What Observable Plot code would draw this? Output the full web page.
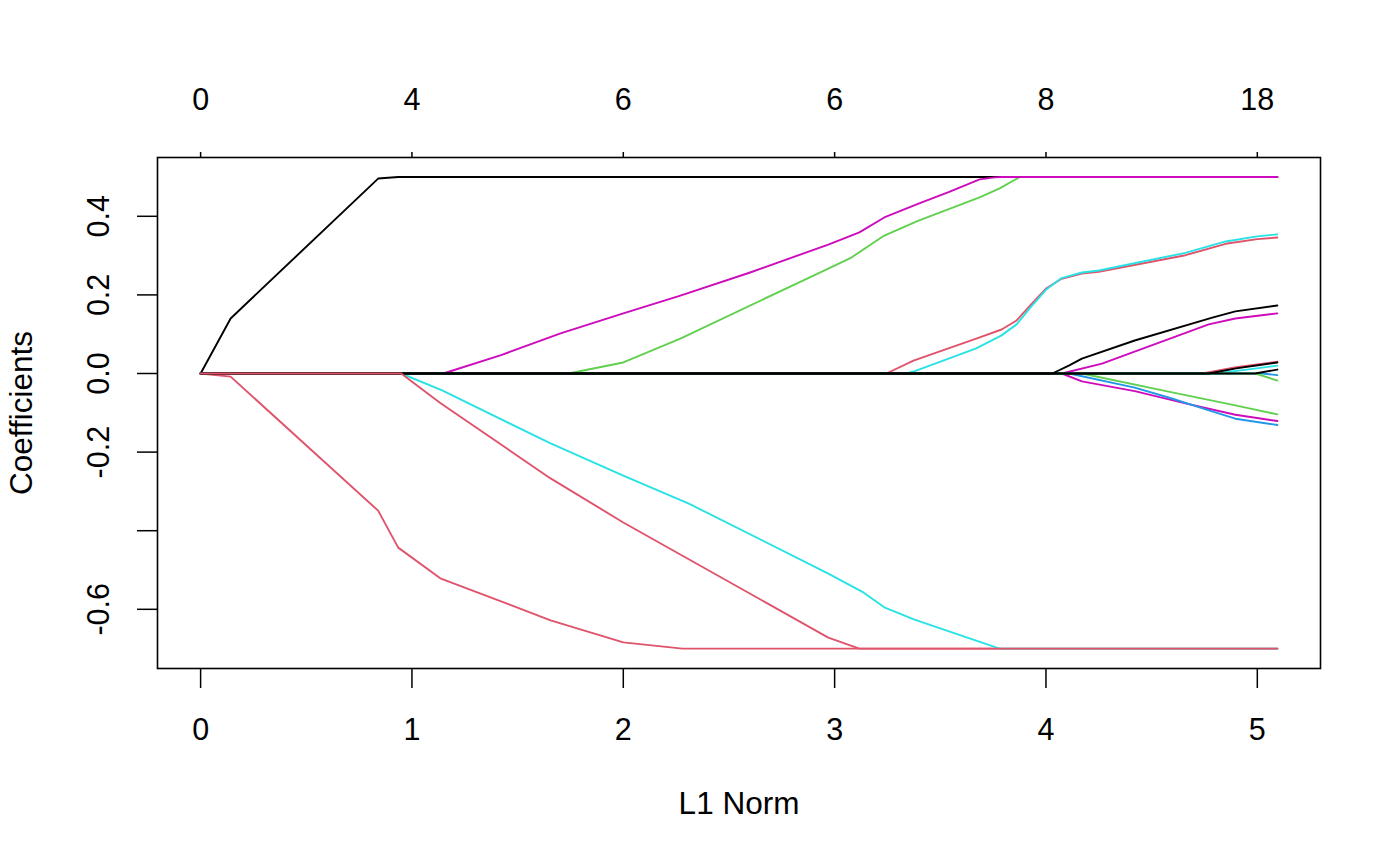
<!DOCTYPE html>
<html>
<head>
<meta charset="utf-8">
<script src="https://cdn.jsdelivr.net/npm/d3@7"></script>
<script src="https://cdn.jsdelivr.net/npm/@observablehq/plot@0.6"></script>
<style>
  html, body { margin: 0; padding: 0; background: #fff; }
  svg { display: block; }
</style>
</head>
<body>
<div id="chart"></div>
<script>
// Axis ticks and labels
const xTicks = [0, 1, 2, 3, 4, 5];
const dfLabels = ["0", "4", "6", "6", "8", "18"];
const yTicks = [-0.6, -0.4, -0.2, 0, 0.2, 0.4];
const yTickLabels = ["-0.6", "", "-0.2", "0.0", "0.2", "0.4"];

// Coefficient paths: [L1 norm, coefficient]
const pathBlack1   = [[0,0],[0.142,0.14],[0.84,0.496],[0.935,0.5],[5.095,0.5]];
const pathRed1     = [[0,0],[0.142,-0.008],[0.84,-0.349],[0.935,-0.443],[1.134,-0.521],[1.656,-0.628],[2.0,-0.684],[2.28,-0.7],[5.095,-0.7]];
const pathGreen1   = [[0,0],[1.74,0],[2.0,0.028],[2.27,0.089],[2.97,0.267],[3.079,0.295],[3.235,0.351],[3.397,0.389],[3.686,0.448],[3.781,0.471],[3.876,0.5],[5.095,0.5]];
const pathMagenta1 = [[0,0],[1.148,0],[1.418,0.046],[1.703,0.102],[2.0,0.153],[2.27,0.198],[2.6,0.257],[2.97,0.328],[3.117,0.359],[3.235,0.397],[3.397,0.432],[3.542,0.462],[3.686,0.494],[3.757,0.499],[3.79,0.5],[5.095,0.5]];
const pathCyan1    = [[0,0],[0.949,0],[1.143,-0.043],[1.656,-0.178],[2.0,-0.26],[2.31,-0.331],[2.97,-0.509],[3.136,-0.557],[3.235,-0.595],[3.378,-0.626],[3.781,-0.7],[5.095,-0.7]];
const pathRed3     = [[0,0],[3.245,0],[3.373,0.033],[3.67,0.089],[3.79,0.112],[3.861,0.135],[3.93,0.176],[4.0,0.216],[4.07,0.24],[4.17,0.254],[4.25,0.259],[4.66,0.301],[4.85,0.33],[5.0,0.342],[5.095,0.346]];
const pathCyan2    = [[0,0],[3.34,0],[3.373,0.005],[3.67,0.064],[3.79,0.097],[3.861,0.125],[3.93,0.17],[4.0,0.213],[4.07,0.242],[4.17,0.257],[4.25,0.262],[4.66,0.307],[4.85,0.336],[5.0,0.349],[5.095,0.354]];
const pathMagenta2 = [[0,0],[4.075,0],[4.265,0.025],[4.77,0.125],[4.896,0.14],[5.095,0.153]];
const pathMagenta3 = [[0,0],[4.075,0],[4.17,-0.02],[4.42,-0.045],[4.66,-0.076],[4.896,-0.105],[5.095,-0.121]];
const pathBlue1    = [[0,0],[4.11,0],[4.42,-0.036],[4.58,-0.061],[4.82,-0.102],[4.896,-0.115],[5.095,-0.131]];
const pathGreen2   = [[0,0],[4.17,0],[4.58,-0.046],[4.896,-0.081],[5.095,-0.104]];
const pathRed4     = [[0,0],[4.74,0],[4.9,0.016],[5.095,0.03]];
const pathCyan3    = [[0,0],[4.8,0],[4.95,0.01],[5.095,0.02]];
const pathBlue2    = [[0,0],[5.02,0],[5.095,-0.004]];
const pathGreen3   = [[0,0],[4.99,0],[5.095,-0.018]];
const pathBlack2   = [[0,0],[4.03,0],[4.108,0.02],[4.17,0.038],[4.42,0.084],[4.787,0.142],[4.896,0.158],[5.095,0.173]];
const pathBlack3   = [[0,0],[4.77,0],[4.9,0.013],[5.095,0.028]];
const pathBlack4   = [[0,0],[4.99,0],[5.095,0.01]];
const pathRed2     = [[0,0],[0.949,0],[1.134,-0.075],[1.656,-0.267],[2.0,-0.379],[2.97,-0.672],[3.117,-0.7],[5.095,-0.7]];

const black = "#000000", red = "#DF536B", green = "#61D04F", blue = "#2297E6", cyan = "#28E2E5", magenta = "#CD0BBC";

// drawing order (last on top)
const seriesPaths  = [pathBlack1, pathRed1, pathGreen1, pathMagenta1, pathCyan1, pathRed3, pathCyan2, pathMagenta2, pathMagenta3, pathBlue1, pathGreen2, pathRed4, pathCyan3, pathBlue2, pathGreen3, pathBlack2, pathBlack3, pathBlack4, pathRed2];
const seriesColors = [black, red, green, magenta, cyan, red, cyan, magenta, magenta, blue, green, red, cyan, blue, green, black, black, black, red];

const fontSize = 30.5;
const titleSize = 31.5;

const lineMarks = seriesPaths.map((p, i) =>
  Plot.line(p, {x: d => d[0], y: d => d[1], stroke: seriesColors[i], strokeWidth: 1.9})
);

const chart = Plot.plot({
  width: 1400,
  height: 865,
  marginLeft: 157,
  marginRight: 80,
  marginTop: 157,
  marginBottom: 197,
  x: {domain: [-0.204, 5.299]},
  y: {domain: [-0.7506, 0.5496]},
  style: {fontFamily: "'Liberation Sans', Arial, Helvetica, sans-serif", fontSize: fontSize + "px", background: "#fff", color: "#000", overflow: "visible"},
  marks: [
    ...lineMarks,
    Plot.frame({stroke: "#000", strokeWidth: 1.6}),
    Plot.axisX({anchor: "bottom", ticks: xTicks, tickSize: 20, tickPadding: 30, tickFormat: d => String(d), label: null, fontSize, strokeWidth: 1.5}),
    Plot.axisX({anchor: "top", ticks: xTicks, tickSize: 6, tickPadding: 41.5, tickFormat: d => dfLabels[xTicks.indexOf(d)], label: null, fontSize, strokeWidth: 1.5}),
    Plot.axisY({anchor: "left", ticks: yTicks, tickSize: 20, tickFormat: () => "", label: null, strokeWidth: 1.5}),
    Plot.text(yTicks, {y: d => d, text: (d, i) => yTickLabels[i], frameAnchor: "left", dx: -48.2, rotate: -90, textAnchor: "middle", lineAnchor: "bottom", fontSize}),
    Plot.text(["L1 Norm"], {text: d => d, frameAnchor: "bottom", dy: 145, lineAnchor: "bottom", fontSize: titleSize}),
    Plot.text(["Coefficients"], {text: d => d, frameAnchor: "left", dx: -125.6, rotate: -90, textAnchor: "middle", lineAnchor: "bottom", fontSize: titleSize})
  ]
});
document.getElementById("chart").appendChild(chart);
</script>
</body>
</html>
